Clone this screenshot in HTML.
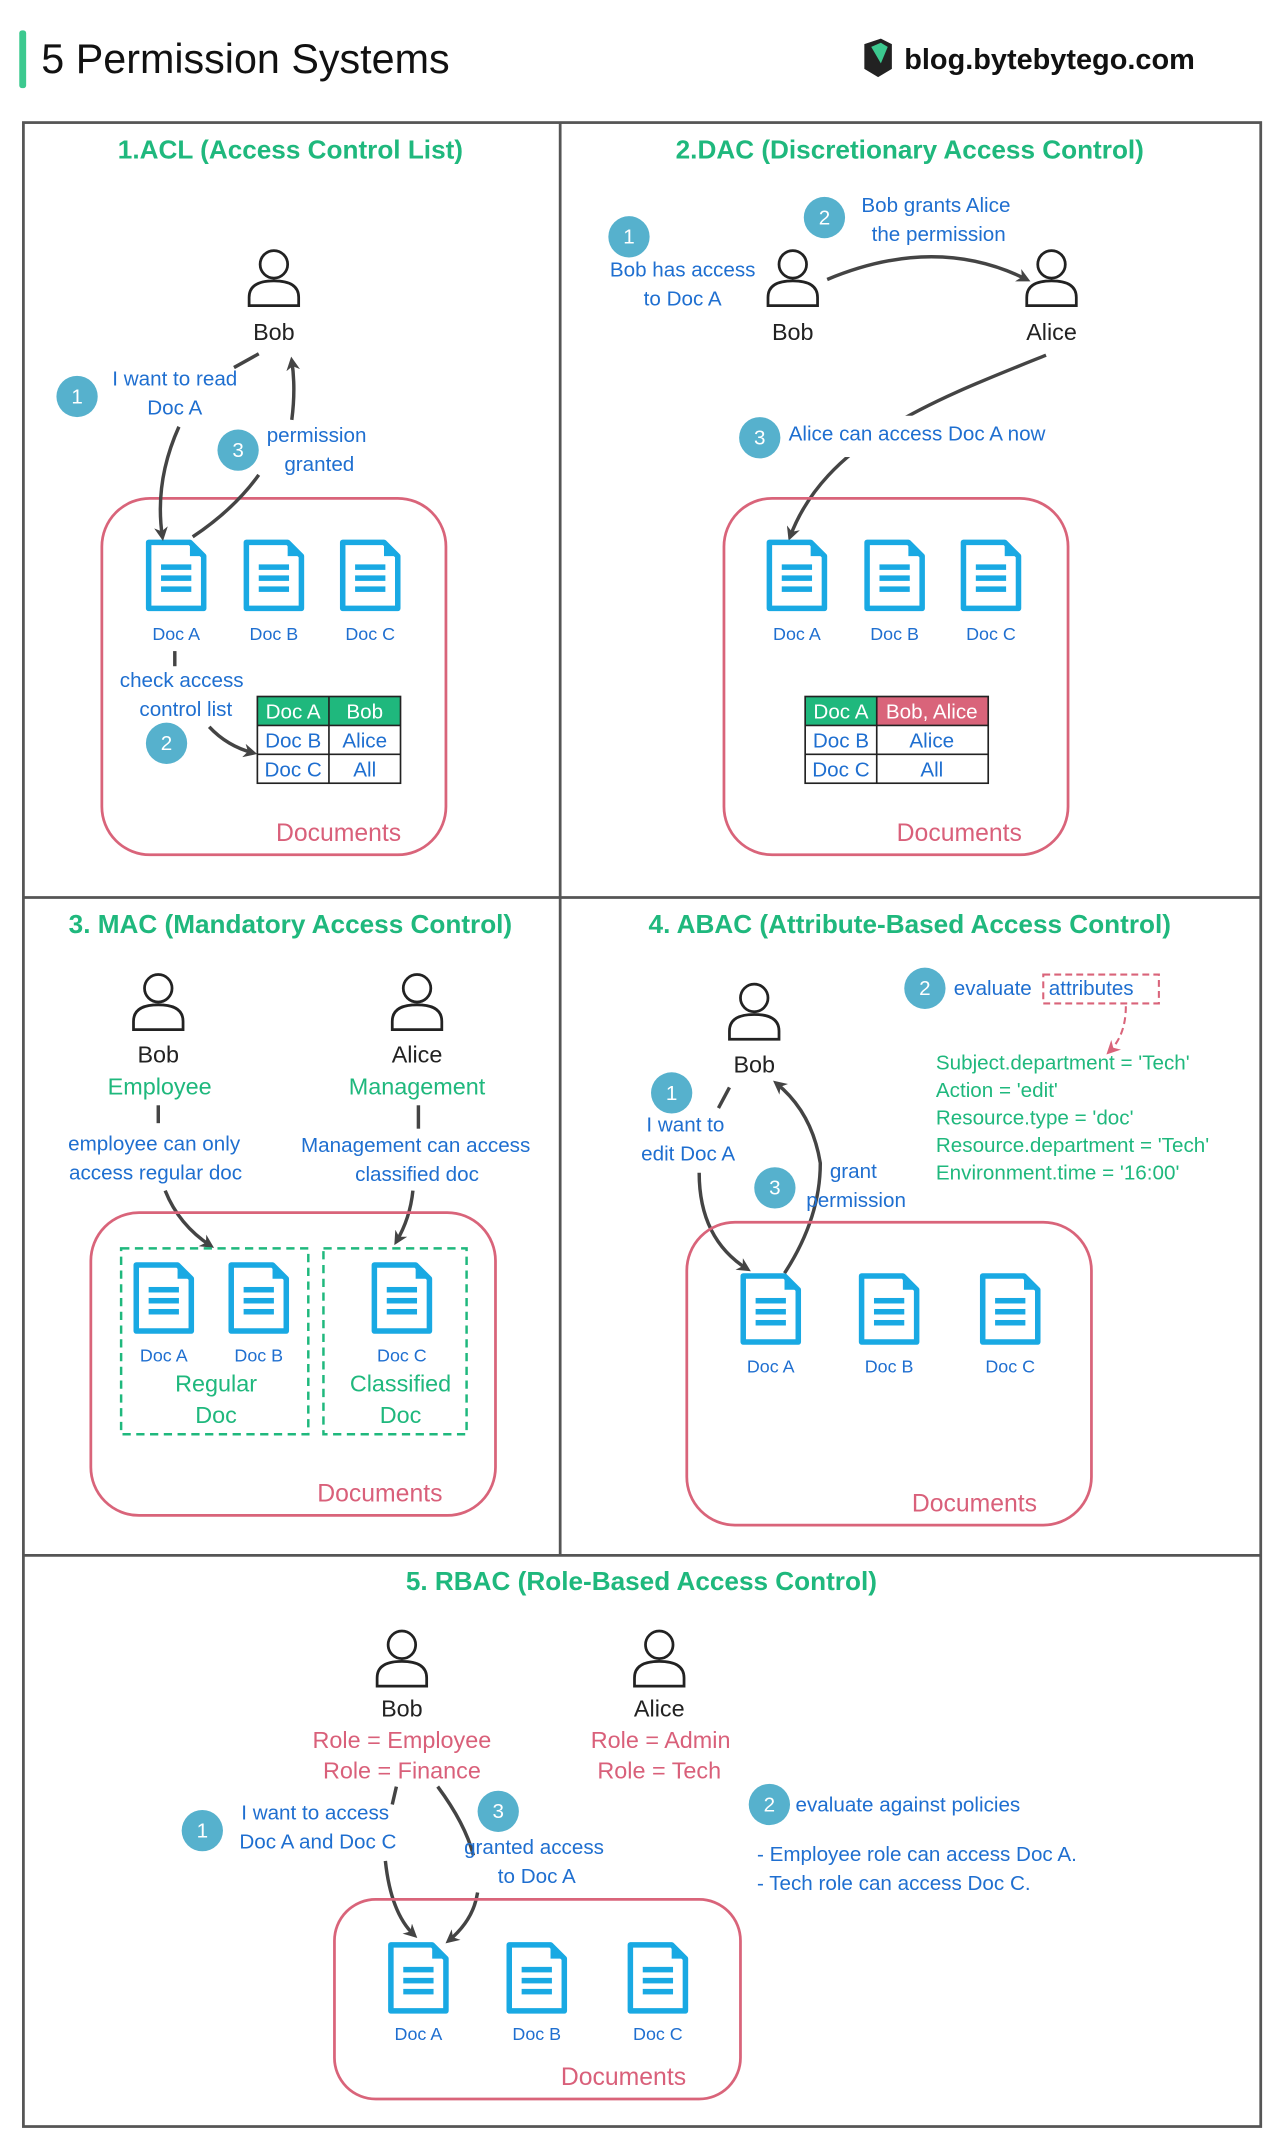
<!DOCTYPE html>
<html><head><meta charset="utf-8"><style>
html,body{margin:0;padding:0;background:#fff;}
svg{display:block}
text{font-family:"Liberation Sans",sans-serif}
.t{fill:#1f6fd0;font-size:15px;text-anchor:middle}
.tl{fill:#1f6fd0;font-size:15px}
.d{fill:#1f6fd0;font-size:13px;text-anchor:middle}
.h{fill:#1fb87d;font-size:19px;font-weight:bold;text-anchor:middle}
.n{fill:#222;font-size:17px;text-anchor:middle}
.g{fill:#1fb87d;font-size:17px;text-anchor:middle}
.r{fill:#d9607a;font-size:17px;text-anchor:middle}
.docs{fill:#d9607a;font-size:18px;text-anchor:middle}
.box{fill:none;stroke:#d9647a;stroke-width:2}
.ar{fill:none;stroke:#444;stroke-width:2.5}
.bt{fill:#fff;font-size:15px;text-anchor:middle}
</style></head><body>
<svg width="1280" height="2139" viewBox="0 0 930 1554" xmlns="http://www.w3.org/2000/svg">
<defs>
<marker id="m" markerWidth="10" markerHeight="10" refX="7" refY="5" orient="auto" markerUnits="userSpaceOnUse">
<path d="M0,0 L10,5 L0,10 L3,5 Z" fill="#444"/></marker>
<marker id="mr" markerWidth="10" markerHeight="10" refX="7" refY="5" orient="auto" markerUnits="userSpaceOnUse">
<path d="M0,0 L10,5 L0,10 L3,5 Z" fill="#d9647a"/></marker>
<g id="doc">
<path d="M-20,-24 H10 L20,-14 V24 H-20 Z" fill="#fff" stroke="#19a9e3" stroke-width="4" stroke-linejoin="round"/>
<path d="M10,-24 V-14 H20 Z" fill="#19a9e3"/>
<rect x="-11" y="-8" width="22" height="4" fill="#19a9e3"/>
<rect x="-11" y="0" width="22" height="4" fill="#19a9e3"/>
<rect x="-11" y="8" width="22" height="4" fill="#19a9e3"/>
</g>
<g id="p">
<circle cx="0" cy="0" r="10" fill="#fff" stroke="#222" stroke-width="2"/>
<path d="M-18,30 V24 Q-18,12 0,12 Q18,12 18,24 V30 Z" fill="#fff" stroke="#222" stroke-width="2"/>
</g>
</defs>

<rect x="14" y="22" width="5" height="42" rx="2" fill="#3cc98f"/>
<text x="30" y="53" style="font-size:30px;fill:#111">5 Permission Systems</text>
<g transform="translate(626,28)">
<path d="M2,4 L14,0 L22,4 V22 L12,28 L2,22 Z" fill="#222"/>
<path d="M7,6 L14,3 L19,6 L14,18 Z" fill="#3cc98f"/>
</g>
<text x="657" y="50" style="font-size:21px;fill:#111;font-weight:bold">blog.bytebytego.com</text>

<rect x="17" y="89" width="899" height="1456" fill="none" stroke="#555" stroke-width="2"/>
<line x1="407" y1="89" x2="407" y2="1130" stroke="#555" stroke-width="2"/>
<line x1="17" y1="652" x2="916" y2="652" stroke="#555" stroke-width="2"/>
<line x1="17" y1="1130" x2="916" y2="1130" stroke="#555" stroke-width="2"/>

<text class="h" x="211" y="115">1.ACL (Access Control List)</text>
<use href="#p" x="199" y="192"/>
<text class="n" x="199" y="247">Bob</text>
<rect class="box" x="74" y="362" width="250" height="259" rx="35"/>
<text class="docs" x="246" y="611">Documents</text>
<use href="#doc" x="128" y="418"/><use href="#doc" x="199" y="418"/><use href="#doc" x="269" y="418"/>
<text class="d" x="128" y="465">Doc A</text><text class="d" x="199" y="465">Doc B</text><text class="d" x="269" y="465">Doc C</text>
<path class="ar" d="M188,257 L170,267"/>
<path class="ar" d="M130,310 Q112,350 118,390" marker-end="url(#m)"/>
<circle cx="56" cy="288" r="15" fill="#56b1cd"/><text class="bt" x="56" y="293">1</text>
<text class="t" x="127" y="280">I want to read</text><text class="t" x="127" y="301">Doc A</text>
<path class="ar" d="M140,390 Q170,370 188,345"/>
<path class="ar" d="M212,305 Q215,282 212,262" marker-end="url(#m)"/>
<circle cx="173" cy="327" r="15" fill="#56b1cd"/><text class="bt" x="173" y="332">3</text>
<text class="t" x="230" y="321">permission</text><text class="t" x="232" y="342">granted</text>
<line x1="127" y1="473" x2="127" y2="484" stroke="#444" stroke-width="2.5"/>
<text class="t" x="132" y="499">check access</text><text class="t" x="135" y="520">control list</text>
<circle cx="121" cy="540" r="15" fill="#56b1cd"/><text class="bt" x="121" y="545">2</text>
<path class="ar" d="M152,528 Q165,542 184,547" marker-end="url(#m)"/>
<g>
<rect x="187" y="506" width="104" height="21" fill="#1fb87d"/>
<rect x="187" y="506" width="104" height="63" fill="none" stroke="#222" stroke-width="1.2"/>
<line x1="187" y1="527" x2="291" y2="527" stroke="#222" stroke-width="1.2"/>
<line x1="187" y1="548" x2="291" y2="548" stroke="#222" stroke-width="1.2"/>
<line x1="239" y1="506" x2="239" y2="569" stroke="#222" stroke-width="1.2"/>
<text x="213" y="522" style="fill:#fff;font-size:15px;text-anchor:middle">Doc A</text>
<text x="265" y="522" style="fill:#fff;font-size:15px;text-anchor:middle">Bob</text>
<text class="t" x="213" y="543">Doc B</text><text class="t" x="265" y="543">Alice</text>
<text class="t" x="213" y="564">Doc C</text><text class="t" x="265" y="564">All</text>
</g>

<text class="h" x="661" y="115">2.DAC (Discretionary Access Control)</text>
<use href="#p" x="576" y="192"/><text class="n" x="576" y="247">Bob</text>
<use href="#p" x="764" y="192"/><text class="n" x="764" y="247">Alice</text>
<circle cx="457" cy="172" r="15" fill="#56b1cd"/><text class="bt" x="457" y="177">1</text>
<text class="t" x="496" y="201">Bob has access</text><text class="t" x="496" y="222">to Doc A</text>
<circle cx="599" cy="158" r="15" fill="#56b1cd"/><text class="bt" x="599" y="163">2</text>
<text class="t" x="680" y="154">Bob grants Alice</text><text class="t" x="682" y="175">the permission</text>
<path class="ar" d="M601,203 Q680,170 746,203" marker-end="url(#m)"/>
<path class="ar" d="M760,258 C680,290 600,320 574,390" marker-end="url(#m)"/>
<rect x="540" y="302" width="245" height="30" fill="#fff"/>
<circle cx="552" cy="318" r="15" fill="#56b1cd"/><text class="bt" x="552" y="323">3</text>
<text class="tl" x="573" y="320">Alice can access Doc A now</text>
<rect class="box" x="526" y="362" width="250" height="259" rx="35"/>
<text class="docs" x="697" y="611">Documents</text>
<use href="#doc" x="579" y="418"/><use href="#doc" x="650" y="418"/><use href="#doc" x="720" y="418"/>
<text class="d" x="579" y="465">Doc A</text><text class="d" x="650" y="465">Doc B</text><text class="d" x="720" y="465">Doc C</text>
<g>
<rect x="585" y="506" width="52" height="21" fill="#1fb87d"/>
<rect x="637" y="506" width="81" height="21" fill="#d9647a"/>
<rect x="585" y="506" width="133" height="63" fill="none" stroke="#222" stroke-width="1.2"/>
<line x1="585" y1="527" x2="718" y2="527" stroke="#222" stroke-width="1.2"/>
<line x1="585" y1="548" x2="718" y2="548" stroke="#222" stroke-width="1.2"/>
<line x1="637" y1="506" x2="637" y2="569" stroke="#222" stroke-width="1.2"/>
<text x="611" y="522" style="fill:#fff;font-size:15px;text-anchor:middle">Doc A</text>
<text x="677" y="522" style="fill:#fff;font-size:15px;text-anchor:middle">Bob, Alice</text>
<text class="t" x="611" y="543">Doc B</text><text class="t" x="677" y="543">Alice</text>
<text class="t" x="611" y="564">Doc C</text><text class="t" x="677" y="564">All</text>
</g>

<text class="h" x="211" y="678">3. MAC (Mandatory Access Control)</text>
<use href="#p" x="115" y="718"/><text class="n" x="115" y="772">Bob</text><text class="g" x="116" y="795">Employee</text>
<use href="#p" x="303" y="718"/><text class="n" x="303" y="772">Alice</text><text class="g" x="303" y="795">Management</text>
<line x1="115" y1="803" x2="115" y2="816" stroke="#444" stroke-width="2.5"/>
<line x1="304" y1="803" x2="304" y2="820" stroke="#444" stroke-width="2.5"/>
<text class="t" x="112" y="836">employee can only</text><text class="t" x="113" y="857">access regular doc</text>
<text class="t" x="302" y="837">Management can access</text><text class="t" x="303" y="858">classified doc</text>
<path class="ar" d="M120,865 Q130,890 153,905" marker-end="url(#m)"/>
<path class="ar" d="M300,865 Q298,885 288,902" marker-end="url(#m)"/>
<rect class="box" x="66" y="881" width="294" height="220" rx="35"/>
<text class="docs" x="276" y="1091">Documents</text>
<rect x="88" y="907" width="136" height="135" fill="none" stroke="#1fb87d" stroke-width="1.8" stroke-dasharray="6,4"/>
<rect x="235" y="907" width="104" height="135" fill="none" stroke="#1fb87d" stroke-width="1.8" stroke-dasharray="6,4"/>
<use href="#doc" x="119" y="943"/><use href="#doc" x="188" y="943"/><use href="#doc" x="292" y="943"/>
<text class="d" x="119" y="989">Doc A</text><text class="d" x="188" y="989">Doc B</text><text class="d" x="292" y="989">Doc C</text>
<text class="g" x="157" y="1011">Regular</text><text class="g" x="157" y="1034">Doc</text>
<text class="g" x="291" y="1011">Classified</text><text class="g" x="291" y="1034">Doc</text>

<text class="h" x="661" y="678">4. ABAC (Attribute-Based Access Control)</text>
<use href="#p" x="548" y="725"/><text class="n" x="548" y="779">Bob</text>
<circle cx="672" cy="718" r="15" fill="#56b1cd"/><text class="bt" x="672" y="723">2</text>
<text class="tl" x="693" y="723">evaluate</text>
<rect x="758" y="708" width="84" height="21" fill="none" stroke="#d9647a" stroke-width="1.5" stroke-dasharray="5,3"/>
<text class="tl" x="762" y="723">attributes</text>
<path d="M818,731 Q818,752 806,764" fill="none" stroke="#d9647a" stroke-width="1.5" stroke-dasharray="5,3" marker-end="url(#mr)"/>
<g style="fill:#1fb87d;font-size:15px">
<text x="680" y="777">Subject.department = 'Tech'</text>
<text x="680" y="797">Action = 'edit'</text>
<text x="680" y="817">Resource.type = 'doc'</text>
<text x="680" y="837">Resource.department = 'Tech'</text>
<text x="680" y="857">Environment.time = '16:00'</text>
</g>
<circle cx="488" cy="794" r="15" fill="#56b1cd"/><text class="bt" x="488" y="799">1</text>
<text class="t" x="498" y="822">I want to</text><text class="t" x="500" y="843">edit Doc A</text>
<path class="ar" d="M530,790 L522,805"/>
<path class="ar" d="M508,852 Q508,900 543,922" marker-end="url(#m)"/>
<path class="ar" d="M570,925 Q596,885 596,845 Q590,808 564,787" marker-end="url(#m)"/>
<circle cx="563" cy="863" r="15" fill="#56b1cd"/><text class="bt" x="563" y="868">3</text>
<text class="t" x="620" y="856">grant</text><text class="t" x="622" y="877">permission</text>
<rect class="box" x="499" y="888" width="294" height="220" rx="35"/>
<text class="docs" x="708" y="1098">Documents</text>
<use href="#doc" x="560" y="951"/><use href="#doc" x="646" y="951"/><use href="#doc" x="734" y="951"/>
<text class="d" x="560" y="997">Doc A</text><text class="d" x="646" y="997">Doc B</text><text class="d" x="734" y="997">Doc C</text>

<text class="h" x="466" y="1155">5. RBAC (Role-Based Access Control)</text>
<use href="#p" x="292" y="1195"/><text class="n" x="292" y="1247">Bob</text>
<text class="r" x="292" y="1270">Role = Employee</text><text class="r" x="292" y="1292">Role = Finance</text>
<use href="#p" x="479" y="1195"/><text class="n" x="479" y="1247">Alice</text>
<text class="r" x="480" y="1270">Role = Admin</text><text class="r" x="479" y="1292">Role = Tech</text>
<circle cx="147" cy="1330" r="15" fill="#56b1cd"/><text class="bt" x="147" y="1335">1</text>
<text class="t" x="229" y="1322">I want to access</text><text class="t" x="231" y="1343">Doc A and Doc C</text>
<path class="ar" d="M288,1298 L285,1311"/>
<path class="ar" d="M280,1352 Q284,1390 301,1406" marker-end="url(#m)"/>
<path class="ar" d="M318,1298 Q338,1325 344,1348"/>
<path class="ar" d="M347,1375 Q344,1395 326,1410" marker-end="url(#m)"/>
<circle cx="362" cy="1316" r="15" fill="#56b1cd"/><text class="bt" x="362" y="1321">3</text>
<text class="t" x="388" y="1347">granted access</text><text class="t" x="390" y="1368">to Doc A</text>
<circle cx="559" cy="1311" r="15" fill="#56b1cd"/><text class="bt" x="559" y="1316">2</text>
<text class="tl" x="578" y="1316">evaluate against policies</text>
<text class="tl" x="550" y="1352">- Employee role can access Doc A.</text>
<text class="tl" x="550" y="1373">- Tech role can access Doc C.</text>
<rect class="box" x="243" y="1380" width="295" height="145" rx="30"/>
<text class="docs" x="453" y="1515">Documents</text>
<use href="#doc" x="304" y="1437"/><use href="#doc" x="390" y="1437"/><use href="#doc" x="478" y="1437"/>
<text class="d" x="304" y="1482">Doc A</text><text class="d" x="390" y="1482">Doc B</text><text class="d" x="478" y="1482">Doc C</text>
</svg>
</body></html>
